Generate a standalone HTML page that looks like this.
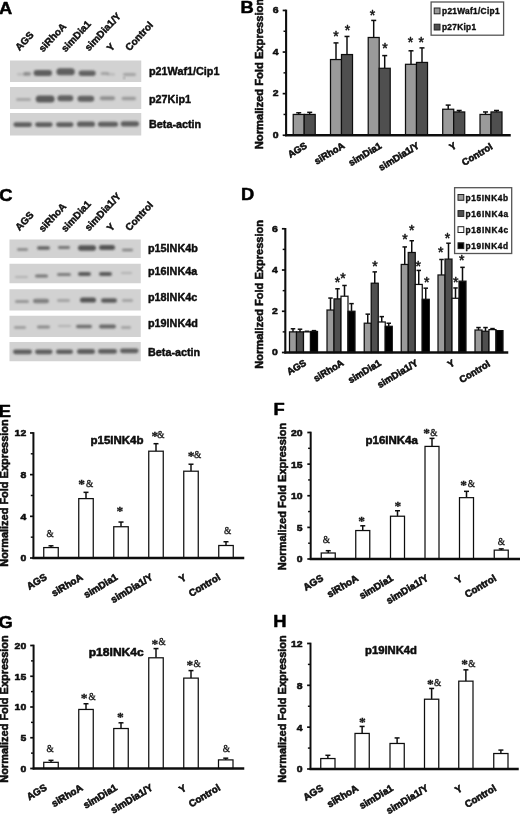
<!DOCTYPE html>
<html><head><meta charset="utf-8"><title>Figure</title>
<style>
html,body{margin:0;padding:0;background:#fff;}
body{width:520px;height:815px;overflow:hidden;}
svg{display:block;font-family:"Liberation Sans",Arial,sans-serif;}
</style></head><body>
<svg width="520" height="815" viewBox="0 0 520 815">
<defs><filter id="bl" x="-20%" y="-60%" width="140%" height="220%"><feGaussianBlur stdDeviation="0.9"/></filter>
<filter id="soft" x="-5%" y="-5%" width="110%" height="110%"><feGaussianBlur stdDeviation="0.35"/></filter></defs>
<rect width="520" height="815" fill="#fff"/>
<g filter="url(#soft)">
<text font-size="17" font-weight="bold" text-anchor="start" fill="#000" stroke="#000" stroke-width="0.5" stroke-linejoin="round" transform="translate(-1.00 14.00) scale(1.08 1)">A</text>
<text font-size="10" font-weight="bold" text-anchor="start" fill="#111" stroke="#111" stroke-width="0.45" stroke-linejoin="round" x="19.50" y="51.30" transform="rotate(-47 19.50 51.30)">AGS</text>
<text font-size="10" font-weight="bold" text-anchor="start" fill="#111" stroke="#111" stroke-width="0.45" stroke-linejoin="round" x="43.00" y="52.50" transform="rotate(-47 43.00 52.50)">siRhoA</text>
<text font-size="10" font-weight="bold" text-anchor="start" fill="#111" stroke="#111" stroke-width="0.45" stroke-linejoin="round" x="65.50" y="52.50" transform="rotate(-47 65.50 52.50)">simDia1</text>
<text font-size="10" font-weight="bold" text-anchor="start" fill="#111" stroke="#111" stroke-width="0.45" stroke-linejoin="round" x="89.00" y="51.50" transform="rotate(-47 89.00 51.50)">simDia1/Y</text>
<text font-size="10" font-weight="bold" text-anchor="start" fill="#111" stroke="#111" stroke-width="0.45" stroke-linejoin="round" x="111.00" y="52.00" transform="rotate(-47 111.00 52.00)">Y</text>
<text font-size="10" font-weight="bold" text-anchor="start" fill="#111" stroke="#111" stroke-width="0.45" stroke-linejoin="round" x="129.50" y="51.50" transform="rotate(-47 129.50 51.50)">Control</text>
<rect x="10.00" y="60.50" width="131.25" height="21.50" fill="#d2d2d2"/>
<rect x="17.00" y="73.05" width="9.00" height="2.50" rx="1.25" fill="#505050" opacity="0.18" filter="url(#bl)"/>
<rect x="23.50" y="71.90" width="7.50" height="3.80" rx="1.90" fill="#505050" opacity="0.5" filter="url(#bl)"/>
<rect x="33.60" y="70.10" width="18.40" height="5.80" rx="2.90" fill="#505050" opacity="0.88" filter="url(#bl)"/>
<rect x="56.40" y="68.30" width="18.40" height="7.00" rx="3.50" fill="#505050" opacity="0.88" filter="url(#bl)"/>
<rect x="78.70" y="70.50" width="17.00" height="5.40" rx="2.70" fill="#505050" opacity="0.85" filter="url(#bl)"/>
<rect x="100.60" y="72.10" width="8.40" height="3.00" rx="1.50" fill="#505050" opacity="0.35" filter="url(#bl)"/>
<rect x="107.00" y="73.20" width="8.00" height="2.40" rx="1.20" fill="#505050" opacity="0.2" filter="url(#bl)"/>
<rect x="123.00" y="73.00" width="13.00" height="3.00" rx="1.50" fill="#505050" opacity="0.35" filter="url(#bl)"/>
<rect x="123.30" y="77.20" width="2.00" height="1.60" rx="0.80" fill="#505050" opacity="0.7" filter="url(#bl)"/>
<rect x="10.00" y="87.00" width="131.25" height="22.00" fill="#d2d2d2"/>
<rect x="16.00" y="98.10" width="15.00" height="3.00" rx="1.50" fill="#505050" opacity="0.32" filter="url(#bl)"/>
<rect x="35.70" y="95.50" width="18.90" height="7.00" rx="3.50" fill="#505050" opacity="0.9" filter="url(#bl)"/>
<rect x="57.40" y="95.20" width="15.90" height="6.00" rx="3.00" fill="#505050" opacity="0.85" filter="url(#bl)"/>
<rect x="77.50" y="95.80" width="16.70" height="6.00" rx="3.00" fill="#505050" opacity="0.85" filter="url(#bl)"/>
<rect x="99.80" y="96.20" width="15.20" height="4.00" rx="2.00" fill="#505050" opacity="0.5" filter="url(#bl)"/>
<rect x="121.60" y="96.75" width="14.40" height="3.50" rx="1.75" fill="#505050" opacity="0.42" filter="url(#bl)"/>
<rect x="10.00" y="113.00" width="131.25" height="22.50" fill="#d2d2d2"/>
<rect x="13.40" y="122.20" width="18.60" height="4.80" rx="2.40" fill="#505050" opacity="0.88" filter="url(#bl)"/>
<rect x="35.10" y="122.20" width="17.50" height="4.80" rx="2.40" fill="#505050" opacity="0.88" filter="url(#bl)"/>
<rect x="56.00" y="122.20" width="17.50" height="4.80" rx="2.40" fill="#505050" opacity="0.88" filter="url(#bl)"/>
<rect x="77.00" y="121.60" width="18.00" height="5.20" rx="2.60" fill="#505050" opacity="0.88" filter="url(#bl)"/>
<rect x="97.90" y="121.80" width="20.10" height="5.00" rx="2.50" fill="#505050" opacity="0.88" filter="url(#bl)"/>
<rect x="120.70" y="121.20" width="18.30" height="5.20" rx="2.60" fill="#505050" opacity="0.88" filter="url(#bl)"/>
<text font-size="10.8" font-weight="bold" text-anchor="start" fill="#111" stroke="#111" stroke-width="0.45" stroke-linejoin="round" x="149.00" y="75.00">p21Waf1/Cip1</text>
<text font-size="10.8" font-weight="bold" text-anchor="start" fill="#111" stroke="#111" stroke-width="0.45" stroke-linejoin="round" x="149.00" y="103.00">p27Kip1</text>
<text font-size="10.8" font-weight="bold" text-anchor="start" fill="#111" stroke="#111" stroke-width="0.45" stroke-linejoin="round" x="149.00" y="128.00">Beta-actin</text>
<text font-size="17" font-weight="bold" text-anchor="start" fill="#000" stroke="#000" stroke-width="0.5" stroke-linejoin="round" transform="translate(-0.80 201.00) scale(1.08 1)">C</text>
<text font-size="10" font-weight="bold" text-anchor="start" fill="#111" stroke="#111" stroke-width="0.45" stroke-linejoin="round" x="19.50" y="231.30" transform="rotate(-47 19.50 231.30)">AGS</text>
<text font-size="10" font-weight="bold" text-anchor="start" fill="#111" stroke="#111" stroke-width="0.45" stroke-linejoin="round" x="43.00" y="232.50" transform="rotate(-47 43.00 232.50)">siRhoA</text>
<text font-size="10" font-weight="bold" text-anchor="start" fill="#111" stroke="#111" stroke-width="0.45" stroke-linejoin="round" x="65.50" y="232.50" transform="rotate(-47 65.50 232.50)">simDia1</text>
<text font-size="10" font-weight="bold" text-anchor="start" fill="#111" stroke="#111" stroke-width="0.45" stroke-linejoin="round" x="89.00" y="231.50" transform="rotate(-47 89.00 231.50)">simDia1/Y</text>
<text font-size="10" font-weight="bold" text-anchor="start" fill="#111" stroke="#111" stroke-width="0.45" stroke-linejoin="round" x="111.00" y="232.00" transform="rotate(-47 111.00 232.00)">Y</text>
<text font-size="10" font-weight="bold" text-anchor="start" fill="#111" stroke="#111" stroke-width="0.45" stroke-linejoin="round" x="129.50" y="231.50" transform="rotate(-47 129.50 231.50)">Control</text>
<rect x="9.50" y="239.50" width="131.25" height="18.50" fill="#d2d2d2"/>
<rect x="17.00" y="248.25" width="11.00" height="2.50" rx="1.25" fill="#505050" opacity="0.6" filter="url(#bl)"/>
<rect x="37.00" y="246.25" width="13.00" height="3.50" rx="1.75" fill="#505050" opacity="0.85" filter="url(#bl)"/>
<rect x="58.00" y="246.10" width="12.00" height="2.80" rx="1.40" fill="#505050" opacity="0.7" filter="url(#bl)"/>
<rect x="78.00" y="245.25" width="18.00" height="5.50" rx="2.75" fill="#505050" opacity="0.95" filter="url(#bl)"/>
<rect x="99.00" y="245.00" width="16.00" height="5.00" rx="2.50" fill="#505050" opacity="0.95" filter="url(#bl)"/>
<rect x="122.00" y="248.75" width="11.00" height="2.50" rx="1.25" fill="#505050" opacity="0.6" filter="url(#bl)"/>
<rect x="9.50" y="263.75" width="131.25" height="19.50" fill="#d2d2d2"/>
<rect x="15.00" y="275.90" width="13.00" height="2.20" rx="1.10" fill="#505050" opacity="0.25" filter="url(#bl)"/>
<rect x="35.00" y="274.40" width="13.00" height="3.20" rx="1.60" fill="#505050" opacity="0.7" filter="url(#bl)"/>
<rect x="57.00" y="272.90" width="14.00" height="3.20" rx="1.60" fill="#505050" opacity="0.65" filter="url(#bl)"/>
<rect x="78.00" y="271.90" width="13.00" height="4.20" rx="2.10" fill="#505050" opacity="0.9" filter="url(#bl)"/>
<rect x="99.00" y="271.90" width="13.00" height="4.20" rx="2.10" fill="#505050" opacity="0.9" filter="url(#bl)"/>
<rect x="121.00" y="272.00" width="11.00" height="2.00" rx="1.00" fill="#505050" opacity="0.25" filter="url(#bl)"/>
<rect x="9.50" y="289.25" width="131.25" height="21.25" fill="#d2d2d2"/>
<rect x="15.00" y="300.00" width="14.00" height="3.00" rx="1.50" fill="#505050" opacity="0.45" filter="url(#bl)"/>
<rect x="33.00" y="298.70" width="16.00" height="4.60" rx="2.30" fill="#505050" opacity="0.62" filter="url(#bl)"/>
<rect x="57.00" y="299.00" width="13.00" height="3.00" rx="1.50" fill="#505050" opacity="0.35" filter="url(#bl)"/>
<rect x="80.00" y="297.40" width="16.00" height="5.20" rx="2.60" fill="#505050" opacity="0.95" filter="url(#bl)"/>
<rect x="101.00" y="298.20" width="16.00" height="4.60" rx="2.30" fill="#505050" opacity="0.9" filter="url(#bl)"/>
<rect x="122.00" y="299.20" width="11.00" height="2.60" rx="1.30" fill="#505050" opacity="0.4" filter="url(#bl)"/>
<rect x="9.50" y="315.75" width="131.25" height="21.25" fill="#d2d2d2"/>
<rect x="14.00" y="326.30" width="12.00" height="2.40" rx="1.20" fill="#505050" opacity="0.45" filter="url(#bl)"/>
<rect x="37.00" y="325.50" width="13.00" height="3.00" rx="1.50" fill="#505050" opacity="0.55" filter="url(#bl)"/>
<rect x="58.00" y="325.00" width="13.00" height="2.00" rx="1.00" fill="#505050" opacity="0.25" filter="url(#bl)"/>
<rect x="76.00" y="324.70" width="16.00" height="3.60" rx="1.80" fill="#505050" opacity="0.75" filter="url(#bl)"/>
<rect x="99.00" y="324.50" width="17.00" height="4.00" rx="2.00" fill="#505050" opacity="0.8" filter="url(#bl)"/>
<rect x="121.00" y="326.25" width="10.00" height="2.50" rx="1.25" fill="#505050" opacity="0.4" filter="url(#bl)"/>
<rect x="9.50" y="342.00" width="131.25" height="19.25" fill="#d2d2d2"/>
<rect x="13.00" y="349.40" width="19.00" height="4.80" rx="2.40" fill="#505050" opacity="0.88" filter="url(#bl)"/>
<rect x="35.00" y="349.40" width="17.50" height="4.80" rx="2.40" fill="#505050" opacity="0.88" filter="url(#bl)"/>
<rect x="56.00" y="349.50" width="17.00" height="4.60" rx="2.30" fill="#505050" opacity="0.88" filter="url(#bl)"/>
<rect x="77.00" y="348.90" width="18.00" height="5.00" rx="2.50" fill="#505050" opacity="0.88" filter="url(#bl)"/>
<rect x="98.00" y="349.00" width="19.00" height="4.80" rx="2.40" fill="#505050" opacity="0.88" filter="url(#bl)"/>
<rect x="120.00" y="348.40" width="18.50" height="4.80" rx="2.40" fill="#505050" opacity="0.88" filter="url(#bl)"/>
<text font-size="10.8" font-weight="bold" text-anchor="start" fill="#111" stroke="#111" stroke-width="0.45" stroke-linejoin="round" x="148.00" y="252.00">p15INK4b</text>
<text font-size="10.8" font-weight="bold" text-anchor="start" fill="#111" stroke="#111" stroke-width="0.45" stroke-linejoin="round" x="148.00" y="275.00">p16INK4a</text>
<text font-size="10.8" font-weight="bold" text-anchor="start" fill="#111" stroke="#111" stroke-width="0.45" stroke-linejoin="round" x="148.00" y="300.50">p18INK4c</text>
<text font-size="10.8" font-weight="bold" text-anchor="start" fill="#111" stroke="#111" stroke-width="0.45" stroke-linejoin="round" x="148.00" y="327.00">p19INK4d</text>
<text font-size="10.8" font-weight="bold" text-anchor="start" fill="#111" stroke="#111" stroke-width="0.45" stroke-linejoin="round" x="148.00" y="356.25">Beta-actin</text>
<text font-size="17" font-weight="bold" text-anchor="start" fill="#000" stroke="#000" stroke-width="0.5" stroke-linejoin="round" transform="translate(240.50 13.00) scale(1.08 1)">B</text>
<line x1="298.70" y1="114.45" x2="298.70" y2="112.79" stroke="#111" stroke-width="1.5"/>
<line x1="296.20" y1="112.79" x2="301.20" y2="112.79" stroke="#111" stroke-width="1.5"/>
<rect x="293.20" y="114.45" width="11.00" height="20.80" fill="#9a9a9a" stroke="#111" stroke-width="1.25"/>
<line x1="309.70" y1="114.45" x2="309.70" y2="112.37" stroke="#111" stroke-width="1.5"/>
<line x1="307.20" y1="112.37" x2="312.20" y2="112.37" stroke="#111" stroke-width="1.5"/>
<rect x="304.20" y="114.45" width="11.00" height="20.80" fill="#505050" stroke="#111" stroke-width="1.25"/>
<line x1="336.00" y1="59.54" x2="336.00" y2="42.90" stroke="#111" stroke-width="1.5"/>
<line x1="333.50" y1="42.90" x2="338.50" y2="42.90" stroke="#111" stroke-width="1.5"/>
<rect x="330.50" y="59.54" width="11.00" height="75.71" fill="#9a9a9a" stroke="#111" stroke-width="1.25"/>
<line x1="347.00" y1="54.55" x2="347.00" y2="36.45" stroke="#111" stroke-width="1.5"/>
<line x1="344.50" y1="36.45" x2="349.50" y2="36.45" stroke="#111" stroke-width="1.5"/>
<rect x="341.50" y="54.55" width="11.00" height="80.70" fill="#505050" stroke="#111" stroke-width="1.25"/>
<line x1="373.70" y1="37.49" x2="373.70" y2="20.43" stroke="#111" stroke-width="1.5"/>
<line x1="371.20" y1="20.43" x2="376.20" y2="20.43" stroke="#111" stroke-width="1.5"/>
<rect x="368.20" y="37.49" width="11.00" height="97.76" fill="#9a9a9a" stroke="#111" stroke-width="1.25"/>
<line x1="384.70" y1="68.27" x2="384.70" y2="55.59" stroke="#111" stroke-width="1.5"/>
<line x1="382.20" y1="55.59" x2="387.20" y2="55.59" stroke="#111" stroke-width="1.5"/>
<rect x="379.20" y="68.27" width="11.00" height="66.98" fill="#505050" stroke="#111" stroke-width="1.25"/>
<line x1="411.00" y1="64.32" x2="411.00" y2="50.80" stroke="#111" stroke-width="1.5"/>
<line x1="408.50" y1="50.80" x2="413.50" y2="50.80" stroke="#111" stroke-width="1.5"/>
<rect x="405.50" y="64.32" width="11.00" height="70.93" fill="#9a9a9a" stroke="#111" stroke-width="1.25"/>
<line x1="422.00" y1="62.45" x2="422.00" y2="47.89" stroke="#111" stroke-width="1.5"/>
<line x1="419.50" y1="47.89" x2="424.50" y2="47.89" stroke="#111" stroke-width="1.5"/>
<rect x="416.50" y="62.45" width="11.00" height="72.80" fill="#505050" stroke="#111" stroke-width="1.25"/>
<line x1="448.20" y1="109.25" x2="448.20" y2="105.09" stroke="#111" stroke-width="1.5"/>
<line x1="445.70" y1="105.09" x2="450.70" y2="105.09" stroke="#111" stroke-width="1.5"/>
<rect x="442.70" y="109.25" width="11.00" height="26.00" fill="#9a9a9a" stroke="#111" stroke-width="1.25"/>
<line x1="459.20" y1="111.95" x2="459.20" y2="110.50" stroke="#111" stroke-width="1.5"/>
<line x1="456.70" y1="110.50" x2="461.70" y2="110.50" stroke="#111" stroke-width="1.5"/>
<rect x="453.70" y="111.95" width="11.00" height="23.30" fill="#505050" stroke="#111" stroke-width="1.25"/>
<line x1="485.50" y1="114.45" x2="485.50" y2="111.95" stroke="#111" stroke-width="1.5"/>
<line x1="483.00" y1="111.95" x2="488.00" y2="111.95" stroke="#111" stroke-width="1.5"/>
<rect x="480.00" y="114.45" width="11.00" height="20.80" fill="#9a9a9a" stroke="#111" stroke-width="1.25"/>
<line x1="496.50" y1="111.95" x2="496.50" y2="110.50" stroke="#111" stroke-width="1.5"/>
<line x1="494.00" y1="110.50" x2="499.00" y2="110.50" stroke="#111" stroke-width="1.5"/>
<rect x="491.00" y="111.95" width="11.00" height="23.30" fill="#505050" stroke="#111" stroke-width="1.25"/>
<line x1="286.10" y1="9.65" x2="286.10" y2="136.15" stroke="#111" stroke-width="2.1"/>
<line x1="285.05" y1="135.25" x2="510.75" y2="135.25" stroke="#111" stroke-width="2.5"/>
<line x1="282.70" y1="135.25" x2="286.10" y2="135.25" stroke="#111" stroke-width="1.7"/>
<text font-size="9.5" font-weight="bold" text-anchor="end" fill="#111" stroke="#111" stroke-width="0.55" stroke-linejoin="round" transform="translate(278.50 138.05) scale(1.1 1)">0</text>
<line x1="282.70" y1="93.65" x2="286.10" y2="93.65" stroke="#111" stroke-width="1.7"/>
<text font-size="9.5" font-weight="bold" text-anchor="end" fill="#111" stroke="#111" stroke-width="0.55" stroke-linejoin="round" transform="translate(278.50 96.45) scale(1.1 1)">2</text>
<line x1="282.70" y1="52.05" x2="286.10" y2="52.05" stroke="#111" stroke-width="1.7"/>
<text font-size="9.5" font-weight="bold" text-anchor="end" fill="#111" stroke="#111" stroke-width="0.55" stroke-linejoin="round" transform="translate(278.50 54.85) scale(1.1 1)">4</text>
<line x1="282.70" y1="10.45" x2="286.10" y2="10.45" stroke="#111" stroke-width="1.7"/>
<text font-size="9.5" font-weight="bold" text-anchor="end" fill="#111" stroke="#111" stroke-width="0.55" stroke-linejoin="round" transform="translate(278.50 13.25) scale(1.1 1)">6</text>
<line x1="283.50" y1="114.45" x2="286.10" y2="114.45" stroke="#111" stroke-width="1.45"/>
<line x1="283.50" y1="72.85" x2="286.10" y2="72.85" stroke="#111" stroke-width="1.45"/>
<line x1="283.50" y1="31.25" x2="286.10" y2="31.25" stroke="#111" stroke-width="1.45"/>
<text font-size="10.1" font-weight="bold" text-anchor="middle" fill="#111" stroke="#111" stroke-width="0.55" stroke-linejoin="round" x="263.20" y="74.00" transform="rotate(-90 263.20 74.00)" textLength="150.5" lengthAdjust="spacingAndGlyphs">Normalized Fold Expression</text>
<text font-size="9.5" font-weight="bold" text-anchor="end" fill="#111" stroke="#111" stroke-width="0.6" stroke-linejoin="round" x="307.80" y="147.50" transform="rotate(-31 307.80 147.50)">AGS</text>
<text font-size="9.5" font-weight="bold" text-anchor="end" fill="#111" stroke="#111" stroke-width="0.6" stroke-linejoin="round" x="345.30" y="147.50" transform="rotate(-31 345.30 147.50)">siRhoA</text>
<text font-size="9.5" font-weight="bold" text-anchor="end" fill="#111" stroke="#111" stroke-width="0.6" stroke-linejoin="round" x="382.30" y="147.50" transform="rotate(-31 382.30 147.50)">simDia1</text>
<text font-size="9.5" font-weight="bold" text-anchor="end" fill="#111" stroke="#111" stroke-width="0.6" stroke-linejoin="round" x="420.05" y="147.50" transform="rotate(-31 420.05 147.50)">simDia1/Y</text>
<text font-size="9.5" font-weight="bold" text-anchor="end" fill="#111" stroke="#111" stroke-width="0.6" stroke-linejoin="round" x="457.30" y="147.50" transform="rotate(-31 457.30 147.50)">Y</text>
<text font-size="9.5" font-weight="bold" text-anchor="end" fill="#111" stroke="#111" stroke-width="0.6" stroke-linejoin="round" x="493.30" y="148.50" transform="rotate(-31 493.30 148.50)">Control</text>
<text font-size="14" font-weight="normal" text-anchor="middle" fill="#111" stroke="#111" stroke-width="0.5" stroke-linejoin="round" x="336.00" y="41.14">*</text>
<text font-size="14" font-weight="normal" text-anchor="middle" fill="#111" stroke="#111" stroke-width="0.5" stroke-linejoin="round" x="347.50" y="34.64">*</text>
<text font-size="14" font-weight="normal" text-anchor="middle" fill="#111" stroke="#111" stroke-width="0.5" stroke-linejoin="round" x="372.50" y="20.14">*</text>
<text font-size="14" font-weight="normal" text-anchor="middle" fill="#111" stroke="#111" stroke-width="0.5" stroke-linejoin="round" x="385.00" y="52.89">*</text>
<text font-size="14" font-weight="normal" text-anchor="middle" fill="#111" stroke="#111" stroke-width="0.5" stroke-linejoin="round" x="410.50" y="47.14">*</text>
<text font-size="14" font-weight="normal" text-anchor="middle" fill="#111" stroke="#111" stroke-width="0.5" stroke-linejoin="round" x="421.25" y="47.14">*</text>
<rect x="431.10" y="2.00" width="72.50" height="33.20" fill="#fff" stroke="#555" stroke-width="1.3"/>
<rect x="434.20" y="8.00" width="5.80" height="5.80" fill="#9a9a9a" stroke="#222" stroke-width="1"/>
<rect x="434.20" y="24.20" width="5.80" height="5.80" fill="#505050" stroke="#222" stroke-width="1"/>
<text font-size="8.3" font-weight="bold" text-anchor="start" fill="#111" stroke="#111" stroke-width="0.4" stroke-linejoin="round" x="442.00" y="14.00" textLength="57.5" lengthAdjust="spacing">p21Waf1/Cip1</text>
<text font-size="8.3" font-weight="bold" text-anchor="start" fill="#111" stroke="#111" stroke-width="0.4" stroke-linejoin="round" x="442.00" y="30.00" textLength="34" lengthAdjust="spacing">p27Kip1</text>
<text font-size="17" font-weight="bold" text-anchor="start" fill="#000" stroke="#000" stroke-width="0.5" stroke-linejoin="round" transform="translate(241.00 199.50) scale(1.08 1)">D</text>
<line x1="293.00" y1="331.88" x2="293.00" y2="328.79" stroke="#111" stroke-width="1.5"/>
<line x1="290.75" y1="328.79" x2="295.25" y2="328.79" stroke="#111" stroke-width="1.5"/>
<rect x="289.50" y="331.88" width="7.00" height="20.62" fill="#9a9a9a" stroke="#111" stroke-width="1.25"/>
<line x1="300.00" y1="331.88" x2="300.00" y2="329.20" stroke="#111" stroke-width="1.5"/>
<line x1="297.75" y1="329.20" x2="302.25" y2="329.20" stroke="#111" stroke-width="1.5"/>
<rect x="296.50" y="331.88" width="7.00" height="20.62" fill="#505050" stroke="#111" stroke-width="1.25"/>
<line x1="307.00" y1="331.88" x2="307.00" y2="331.26" stroke="#111" stroke-width="1.5"/>
<line x1="304.75" y1="331.26" x2="309.25" y2="331.26" stroke="#111" stroke-width="1.5"/>
<rect x="303.50" y="331.88" width="7.00" height="20.62" fill="#fff" stroke="#111" stroke-width="1.25"/>
<line x1="314.00" y1="331.47" x2="314.00" y2="330.64" stroke="#111" stroke-width="1.5"/>
<line x1="311.75" y1="330.64" x2="316.25" y2="330.64" stroke="#111" stroke-width="1.5"/>
<rect x="310.50" y="331.47" width="7.00" height="21.03" fill="#000" stroke="#111" stroke-width="1.25"/>
<line x1="330.50" y1="310.02" x2="330.50" y2="298.06" stroke="#111" stroke-width="1.5"/>
<line x1="328.25" y1="298.06" x2="332.75" y2="298.06" stroke="#111" stroke-width="1.5"/>
<rect x="327.00" y="310.02" width="7.00" height="42.48" fill="#9a9a9a" stroke="#111" stroke-width="1.25"/>
<line x1="337.50" y1="298.89" x2="337.50" y2="288.78" stroke="#111" stroke-width="1.5"/>
<line x1="335.25" y1="288.78" x2="339.75" y2="288.78" stroke="#111" stroke-width="1.5"/>
<rect x="334.00" y="298.89" width="7.00" height="53.61" fill="#505050" stroke="#111" stroke-width="1.25"/>
<line x1="344.50" y1="296.21" x2="344.50" y2="285.49" stroke="#111" stroke-width="1.5"/>
<line x1="342.25" y1="285.49" x2="346.75" y2="285.49" stroke="#111" stroke-width="1.5"/>
<rect x="341.00" y="296.21" width="7.00" height="56.29" fill="#fff" stroke="#111" stroke-width="1.25"/>
<line x1="351.50" y1="311.26" x2="351.50" y2="303.63" stroke="#111" stroke-width="1.5"/>
<line x1="349.25" y1="303.63" x2="353.75" y2="303.63" stroke="#111" stroke-width="1.5"/>
<rect x="348.00" y="311.26" width="7.00" height="41.24" fill="#000" stroke="#111" stroke-width="1.25"/>
<line x1="367.75" y1="323.22" x2="367.75" y2="314.15" stroke="#111" stroke-width="1.5"/>
<line x1="365.50" y1="314.15" x2="370.00" y2="314.15" stroke="#111" stroke-width="1.5"/>
<rect x="364.25" y="323.22" width="7.00" height="29.28" fill="#9a9a9a" stroke="#111" stroke-width="1.25"/>
<line x1="374.75" y1="283.22" x2="374.75" y2="271.88" stroke="#111" stroke-width="1.5"/>
<line x1="372.50" y1="271.88" x2="377.00" y2="271.88" stroke="#111" stroke-width="1.5"/>
<rect x="371.25" y="283.22" width="7.00" height="69.28" fill="#505050" stroke="#111" stroke-width="1.25"/>
<line x1="381.75" y1="321.98" x2="381.75" y2="316.62" stroke="#111" stroke-width="1.5"/>
<line x1="379.50" y1="316.62" x2="384.00" y2="316.62" stroke="#111" stroke-width="1.5"/>
<rect x="378.25" y="321.98" width="7.00" height="30.52" fill="#fff" stroke="#111" stroke-width="1.25"/>
<line x1="388.75" y1="326.31" x2="388.75" y2="323.22" stroke="#111" stroke-width="1.5"/>
<line x1="386.50" y1="323.22" x2="391.00" y2="323.22" stroke="#111" stroke-width="1.5"/>
<rect x="385.25" y="326.31" width="7.00" height="26.19" fill="#000" stroke="#111" stroke-width="1.25"/>
<line x1="404.75" y1="264.45" x2="404.75" y2="246.93" stroke="#111" stroke-width="1.5"/>
<line x1="402.50" y1="246.93" x2="407.00" y2="246.93" stroke="#111" stroke-width="1.5"/>
<rect x="401.25" y="264.45" width="7.00" height="88.05" fill="#9a9a9a" stroke="#111" stroke-width="1.25"/>
<line x1="411.75" y1="252.49" x2="411.75" y2="240.74" stroke="#111" stroke-width="1.5"/>
<line x1="409.50" y1="240.74" x2="414.00" y2="240.74" stroke="#111" stroke-width="1.5"/>
<rect x="408.25" y="252.49" width="7.00" height="100.01" fill="#505050" stroke="#111" stroke-width="1.25"/>
<line x1="418.75" y1="284.45" x2="418.75" y2="270.43" stroke="#111" stroke-width="1.5"/>
<line x1="416.50" y1="270.43" x2="421.00" y2="270.43" stroke="#111" stroke-width="1.5"/>
<rect x="415.25" y="284.45" width="7.00" height="68.05" fill="#fff" stroke="#111" stroke-width="1.25"/>
<line x1="425.75" y1="299.30" x2="425.75" y2="288.17" stroke="#111" stroke-width="1.5"/>
<line x1="423.50" y1="288.17" x2="428.00" y2="288.17" stroke="#111" stroke-width="1.5"/>
<rect x="422.25" y="299.30" width="7.00" height="53.20" fill="#000" stroke="#111" stroke-width="1.25"/>
<line x1="441.50" y1="274.97" x2="441.50" y2="259.50" stroke="#111" stroke-width="1.5"/>
<line x1="439.25" y1="259.50" x2="443.75" y2="259.50" stroke="#111" stroke-width="1.5"/>
<rect x="438.00" y="274.97" width="7.00" height="77.53" fill="#9a9a9a" stroke="#111" stroke-width="1.25"/>
<line x1="448.50" y1="259.09" x2="448.50" y2="243.21" stroke="#111" stroke-width="1.5"/>
<line x1="446.25" y1="243.21" x2="450.75" y2="243.21" stroke="#111" stroke-width="1.5"/>
<rect x="445.00" y="259.09" width="7.00" height="93.41" fill="#505050" stroke="#111" stroke-width="1.25"/>
<line x1="455.50" y1="298.27" x2="455.50" y2="287.96" stroke="#111" stroke-width="1.5"/>
<line x1="453.25" y1="287.96" x2="457.75" y2="287.96" stroke="#111" stroke-width="1.5"/>
<rect x="452.00" y="298.27" width="7.00" height="54.23" fill="#fff" stroke="#111" stroke-width="1.25"/>
<line x1="462.50" y1="281.15" x2="462.50" y2="267.34" stroke="#111" stroke-width="1.5"/>
<line x1="460.25" y1="267.34" x2="464.75" y2="267.34" stroke="#111" stroke-width="1.5"/>
<rect x="459.00" y="281.15" width="7.00" height="71.35" fill="#000" stroke="#111" stroke-width="1.25"/>
<line x1="478.50" y1="330.02" x2="478.50" y2="327.55" stroke="#111" stroke-width="1.5"/>
<line x1="476.25" y1="327.55" x2="480.75" y2="327.55" stroke="#111" stroke-width="1.5"/>
<rect x="475.00" y="330.02" width="7.00" height="22.48" fill="#9a9a9a" stroke="#111" stroke-width="1.25"/>
<line x1="485.50" y1="331.26" x2="485.50" y2="327.55" stroke="#111" stroke-width="1.5"/>
<line x1="483.25" y1="327.55" x2="487.75" y2="327.55" stroke="#111" stroke-width="1.5"/>
<rect x="482.00" y="331.26" width="7.00" height="21.24" fill="#505050" stroke="#111" stroke-width="1.25"/>
<line x1="492.50" y1="329.61" x2="492.50" y2="328.58" stroke="#111" stroke-width="1.5"/>
<line x1="490.25" y1="328.58" x2="494.75" y2="328.58" stroke="#111" stroke-width="1.5"/>
<rect x="489.00" y="329.61" width="7.00" height="22.89" fill="#fff" stroke="#111" stroke-width="1.25"/>
<rect x="496.00" y="330.64" width="7.00" height="21.86" fill="#000" stroke="#111" stroke-width="1.25"/>
<line x1="285.30" y1="227.98" x2="285.30" y2="353.40" stroke="#111" stroke-width="2.1"/>
<line x1="284.25" y1="352.50" x2="508.25" y2="352.50" stroke="#111" stroke-width="2.5"/>
<line x1="281.90" y1="352.50" x2="285.30" y2="352.50" stroke="#111" stroke-width="1.7"/>
<text font-size="9.5" font-weight="bold" text-anchor="end" fill="#111" stroke="#111" stroke-width="0.55" stroke-linejoin="round" transform="translate(277.80 355.30) scale(1.1 1)">0</text>
<line x1="281.90" y1="311.26" x2="285.30" y2="311.26" stroke="#111" stroke-width="1.7"/>
<text font-size="9.5" font-weight="bold" text-anchor="end" fill="#111" stroke="#111" stroke-width="0.55" stroke-linejoin="round" transform="translate(277.80 314.06) scale(1.1 1)">2</text>
<line x1="281.90" y1="270.02" x2="285.30" y2="270.02" stroke="#111" stroke-width="1.7"/>
<text font-size="9.5" font-weight="bold" text-anchor="end" fill="#111" stroke="#111" stroke-width="0.55" stroke-linejoin="round" transform="translate(277.80 272.82) scale(1.1 1)">4</text>
<line x1="281.90" y1="228.78" x2="285.30" y2="228.78" stroke="#111" stroke-width="1.7"/>
<text font-size="9.5" font-weight="bold" text-anchor="end" fill="#111" stroke="#111" stroke-width="0.55" stroke-linejoin="round" transform="translate(277.80 231.58) scale(1.1 1)">6</text>
<line x1="282.70" y1="331.88" x2="285.30" y2="331.88" stroke="#111" stroke-width="1.45"/>
<line x1="282.70" y1="290.64" x2="285.30" y2="290.64" stroke="#111" stroke-width="1.45"/>
<line x1="282.70" y1="249.40" x2="285.30" y2="249.40" stroke="#111" stroke-width="1.45"/>
<text font-size="10.1" font-weight="bold" text-anchor="middle" fill="#111" stroke="#111" stroke-width="0.55" stroke-linejoin="round" x="263.00" y="294.30" transform="rotate(-90 263.00 294.30)" textLength="148.8" lengthAdjust="spacingAndGlyphs">Normalized Fold Expression</text>
<text font-size="9.5" font-weight="bold" text-anchor="end" fill="#111" stroke="#111" stroke-width="0.6" stroke-linejoin="round" x="307.00" y="364.75" transform="rotate(-31 307.00 364.75)">AGS</text>
<text font-size="9.5" font-weight="bold" text-anchor="end" fill="#111" stroke="#111" stroke-width="0.6" stroke-linejoin="round" x="344.50" y="364.75" transform="rotate(-31 344.50 364.75)">siRhoA</text>
<text font-size="9.5" font-weight="bold" text-anchor="end" fill="#111" stroke="#111" stroke-width="0.6" stroke-linejoin="round" x="381.75" y="364.75" transform="rotate(-31 381.75 364.75)">simDia1</text>
<text font-size="9.5" font-weight="bold" text-anchor="end" fill="#111" stroke="#111" stroke-width="0.6" stroke-linejoin="round" x="418.75" y="364.75" transform="rotate(-31 418.75 364.75)">simDia1/Y</text>
<text font-size="9.5" font-weight="bold" text-anchor="end" fill="#111" stroke="#111" stroke-width="0.6" stroke-linejoin="round" x="455.50" y="364.75" transform="rotate(-31 455.50 364.75)">Y</text>
<text font-size="9.5" font-weight="bold" text-anchor="end" fill="#111" stroke="#111" stroke-width="0.6" stroke-linejoin="round" x="490.80" y="365.75" transform="rotate(-31 490.80 365.75)">Control</text>
<text font-size="14" font-weight="normal" text-anchor="middle" fill="#111" stroke="#111" stroke-width="0.5" stroke-linejoin="round" x="337.50" y="286.64">*</text>
<text font-size="14" font-weight="normal" text-anchor="middle" fill="#111" stroke="#111" stroke-width="0.5" stroke-linejoin="round" x="343.00" y="283.14">*</text>
<text font-size="14" font-weight="normal" text-anchor="middle" fill="#111" stroke="#111" stroke-width="0.5" stroke-linejoin="round" x="375.00" y="270.89">*</text>
<text font-size="14" font-weight="normal" text-anchor="middle" fill="#111" stroke="#111" stroke-width="0.5" stroke-linejoin="round" x="405.00" y="244.14">*</text>
<text font-size="14" font-weight="normal" text-anchor="middle" fill="#111" stroke="#111" stroke-width="0.5" stroke-linejoin="round" x="411.75" y="234.64">*</text>
<text font-size="14" font-weight="normal" text-anchor="middle" fill="#111" stroke="#111" stroke-width="0.5" stroke-linejoin="round" x="418.25" y="270.89">*</text>
<text font-size="14" font-weight="normal" text-anchor="middle" fill="#111" stroke="#111" stroke-width="0.5" stroke-linejoin="round" x="426.75" y="286.64">*</text>
<text font-size="14" font-weight="normal" text-anchor="middle" fill="#111" stroke="#111" stroke-width="0.5" stroke-linejoin="round" x="440.75" y="256.64">*</text>
<text font-size="14" font-weight="normal" text-anchor="middle" fill="#111" stroke="#111" stroke-width="0.5" stroke-linejoin="round" x="447.50" y="243.39">*</text>
<text font-size="14" font-weight="normal" text-anchor="middle" fill="#111" stroke="#111" stroke-width="0.5" stroke-linejoin="round" x="455.75" y="287.14">*</text>
<text font-size="14" font-weight="normal" text-anchor="middle" fill="#111" stroke="#111" stroke-width="0.5" stroke-linejoin="round" x="461.75" y="265.14">*</text>
<rect x="454.60" y="187.70" width="57.10" height="65.80" fill="#fff" stroke="#555" stroke-width="1.3"/>
<rect x="458.00" y="194.50" width="5.80" height="5.80" fill="#9a9a9a" stroke="#222" stroke-width="1"/>
<text font-size="8.3" font-weight="bold" text-anchor="start" fill="#111" stroke="#111" stroke-width="0.4" stroke-linejoin="round" x="465.60" y="200.60" textLength="42.5" lengthAdjust="spacing">p15INK4b</text>
<rect x="458.00" y="210.60" width="5.80" height="5.80" fill="#505050" stroke="#222" stroke-width="1"/>
<text font-size="8.3" font-weight="bold" text-anchor="start" fill="#111" stroke="#111" stroke-width="0.4" stroke-linejoin="round" x="465.60" y="216.70" textLength="42.5" lengthAdjust="spacing">p16INK4a</text>
<rect x="458.00" y="226.70" width="5.80" height="5.80" fill="#fff" stroke="#222" stroke-width="1"/>
<text font-size="8.3" font-weight="bold" text-anchor="start" fill="#111" stroke="#111" stroke-width="0.4" stroke-linejoin="round" x="465.60" y="232.80" textLength="42.5" lengthAdjust="spacing">p18INK4c</text>
<rect x="458.00" y="242.80" width="5.80" height="5.80" fill="#000" stroke="#222" stroke-width="1"/>
<text font-size="8.3" font-weight="bold" text-anchor="start" fill="#111" stroke="#111" stroke-width="0.4" stroke-linejoin="round" x="465.60" y="248.90" textLength="42.5" lengthAdjust="spacing">p19INK4d</text>
<text font-size="17" font-weight="bold" text-anchor="start" fill="#000" stroke="#000" stroke-width="0.5" stroke-linejoin="round" transform="translate(-1.30 416.50) scale(1.08 1)">E</text>
<line x1="51.00" y1="547.58" x2="51.00" y2="545.81" stroke="#111" stroke-width="1.5"/>
<line x1="48.50" y1="545.81" x2="53.50" y2="545.81" stroke="#111" stroke-width="1.5"/>
<rect x="43.75" y="547.58" width="14.50" height="10.42" fill="#fff" stroke="#111" stroke-width="1.25"/>
<line x1="86.00" y1="498.61" x2="86.00" y2="492.35" stroke="#111" stroke-width="1.5"/>
<line x1="83.50" y1="492.35" x2="88.50" y2="492.35" stroke="#111" stroke-width="1.5"/>
<rect x="78.75" y="498.61" width="14.50" height="59.39" fill="#fff" stroke="#111" stroke-width="1.25"/>
<line x1="121.00" y1="526.74" x2="121.00" y2="522.05" stroke="#111" stroke-width="1.5"/>
<line x1="118.50" y1="522.05" x2="123.50" y2="522.05" stroke="#111" stroke-width="1.5"/>
<rect x="113.75" y="526.74" width="14.50" height="31.26" fill="#fff" stroke="#111" stroke-width="1.25"/>
<line x1="156.00" y1="451.19" x2="156.00" y2="443.69" stroke="#111" stroke-width="1.5"/>
<line x1="153.50" y1="443.69" x2="158.50" y2="443.69" stroke="#111" stroke-width="1.5"/>
<rect x="148.75" y="451.19" width="14.50" height="106.81" fill="#fff" stroke="#111" stroke-width="1.25"/>
<line x1="191.00" y1="471.20" x2="191.00" y2="464.22" stroke="#111" stroke-width="1.5"/>
<line x1="188.50" y1="464.22" x2="193.50" y2="464.22" stroke="#111" stroke-width="1.5"/>
<rect x="183.75" y="471.20" width="14.50" height="86.80" fill="#fff" stroke="#111" stroke-width="1.25"/>
<line x1="226.00" y1="545.50" x2="226.00" y2="541.74" stroke="#111" stroke-width="1.5"/>
<line x1="223.50" y1="541.74" x2="228.50" y2="541.74" stroke="#111" stroke-width="1.5"/>
<rect x="218.75" y="545.50" width="14.50" height="12.50" fill="#fff" stroke="#111" stroke-width="1.25"/>
<line x1="33.40" y1="432.16" x2="33.40" y2="558.90" stroke="#111" stroke-width="2.0"/>
<line x1="32.40" y1="558.00" x2="244.25" y2="558.00" stroke="#111" stroke-width="2.3"/>
<line x1="30.00" y1="558.00" x2="33.40" y2="558.00" stroke="#111" stroke-width="1.7"/>
<text font-size="9.5" font-weight="bold" text-anchor="end" fill="#111" stroke="#111" stroke-width="0.55" stroke-linejoin="round" transform="translate(26.20 561.40) scale(1.1 1)">0</text>
<line x1="30.00" y1="516.32" x2="33.40" y2="516.32" stroke="#111" stroke-width="1.7"/>
<text font-size="9.5" font-weight="bold" text-anchor="end" fill="#111" stroke="#111" stroke-width="0.55" stroke-linejoin="round" transform="translate(26.20 519.72) scale(1.1 1)">4</text>
<line x1="30.00" y1="474.64" x2="33.40" y2="474.64" stroke="#111" stroke-width="1.7"/>
<text font-size="9.5" font-weight="bold" text-anchor="end" fill="#111" stroke="#111" stroke-width="0.55" stroke-linejoin="round" transform="translate(26.20 478.04) scale(1.1 1)">8</text>
<line x1="30.00" y1="432.96" x2="33.40" y2="432.96" stroke="#111" stroke-width="1.7"/>
<text font-size="9.5" font-weight="bold" text-anchor="end" fill="#111" stroke="#111" stroke-width="0.55" stroke-linejoin="round" transform="translate(26.20 436.36) scale(1.1 1)">12</text>
<line x1="30.80" y1="537.16" x2="33.40" y2="537.16" stroke="#111" stroke-width="1.45"/>
<line x1="30.80" y1="495.48" x2="33.40" y2="495.48" stroke="#111" stroke-width="1.45"/>
<line x1="30.80" y1="453.80" x2="33.40" y2="453.80" stroke="#111" stroke-width="1.45"/>
<text font-size="10.1" font-weight="bold" text-anchor="middle" fill="#111" stroke="#111" stroke-width="0.55" stroke-linejoin="round" x="8.00" y="493.00" transform="rotate(-90 8.00 493.00)" textLength="147.5" lengthAdjust="spacingAndGlyphs">Normalized Fold Expression</text>
<text font-size="9.8" font-weight="bold" text-anchor="end" fill="#111" stroke="#111" stroke-width="0.6" stroke-linejoin="round" x="47.50" y="579.00" transform="rotate(-31 47.50 579.00)">AGS</text>
<text font-size="9.8" font-weight="bold" text-anchor="end" fill="#111" stroke="#111" stroke-width="0.6" stroke-linejoin="round" x="83.50" y="579.00" transform="rotate(-31 83.50 579.00)">siRhoA</text>
<text font-size="9.8" font-weight="bold" text-anchor="end" fill="#111" stroke="#111" stroke-width="0.6" stroke-linejoin="round" x="118.50" y="579.00" transform="rotate(-31 118.50 579.00)">simDia1</text>
<text font-size="9.8" font-weight="bold" text-anchor="end" fill="#111" stroke="#111" stroke-width="0.6" stroke-linejoin="round" x="153.50" y="579.00" transform="rotate(-31 153.50 579.00)">simDia1/Y</text>
<text font-size="9.8" font-weight="bold" text-anchor="end" fill="#111" stroke="#111" stroke-width="0.6" stroke-linejoin="round" x="187.00" y="579.50" transform="rotate(-31 187.00 579.50)">Y</text>
<text font-size="9.8" font-weight="bold" text-anchor="end" fill="#111" stroke="#111" stroke-width="0.6" stroke-linejoin="round" x="221.00" y="579.00" transform="rotate(-31 221.00 579.00)">Control</text>
<text font-size="11.2" font-weight="bold" text-anchor="start" fill="#111" stroke="#111" stroke-width="0.55" stroke-linejoin="round" x="90.50" y="443.75" textLength="53" lengthAdjust="spacingAndGlyphs">p15INK4b</text>
<text font-size="9.3" font-weight="normal" text-anchor="middle" fill="#111" stroke="#111" stroke-width="0.3" stroke-linejoin="round" font-family='"Liberation Serif", "Times New Roman", serif' x="50.00" y="536.77">&amp;</text>
<text font-size="13.5" font-weight="bold" text-anchor="middle" fill="#111" stroke="#111" stroke-width="0.3" stroke-linejoin="round" font-family='"Liberation Serif", "Times New Roman", serif' x="81.55" y="488.42">*</text>
<text font-size="9.3" font-weight="normal" text-anchor="middle" fill="#111" stroke="#111" stroke-width="0.3" stroke-linejoin="round" font-family='"Liberation Serif", "Times New Roman", serif' x="89.50" y="486.77">&amp;</text>
<text font-size="13.5" font-weight="bold" text-anchor="middle" fill="#111" stroke="#111" stroke-width="0.3" stroke-linejoin="round" font-family='"Liberation Serif", "Times New Roman", serif' x="119.80" y="515.42">*</text>
<text font-size="13.5" font-weight="bold" text-anchor="middle" fill="#111" stroke="#111" stroke-width="0.3" stroke-linejoin="round" font-family='"Liberation Serif", "Times New Roman", serif' x="154.80" y="440.42">*</text>
<text font-size="9.3" font-weight="normal" text-anchor="middle" fill="#111" stroke="#111" stroke-width="0.3" stroke-linejoin="round" font-family='"Liberation Serif", "Times New Roman", serif' x="160.75" y="438.02">&amp;</text>
<text font-size="13.5" font-weight="bold" text-anchor="middle" fill="#111" stroke="#111" stroke-width="0.3" stroke-linejoin="round" font-family='"Liberation Serif", "Times New Roman", serif' x="191.05" y="459.92">*</text>
<text font-size="9.3" font-weight="normal" text-anchor="middle" fill="#111" stroke="#111" stroke-width="0.3" stroke-linejoin="round" font-family='"Liberation Serif", "Times New Roman", serif' x="197.50" y="457.52">&amp;</text>
<text font-size="9.3" font-weight="normal" text-anchor="middle" fill="#111" stroke="#111" stroke-width="0.3" stroke-linejoin="round" font-family='"Liberation Serif", "Times New Roman", serif' x="227.50" y="534.27">&amp;</text>
<text font-size="17" font-weight="bold" text-anchor="start" fill="#000" stroke="#000" stroke-width="0.5" stroke-linejoin="round" transform="translate(273.50 414.50) scale(1.08 1)">F</text>
<line x1="328.25" y1="552.99" x2="328.25" y2="550.71" stroke="#111" stroke-width="1.5"/>
<line x1="325.75" y1="550.71" x2="330.75" y2="550.71" stroke="#111" stroke-width="1.5"/>
<rect x="321.25" y="552.99" width="14.00" height="6.01" fill="#fff" stroke="#111" stroke-width="1.25"/>
<line x1="362.75" y1="530.54" x2="362.75" y2="525.79" stroke="#111" stroke-width="1.5"/>
<line x1="360.25" y1="525.79" x2="365.25" y2="525.79" stroke="#111" stroke-width="1.5"/>
<rect x="355.75" y="530.54" width="14.00" height="28.46" fill="#fff" stroke="#111" stroke-width="1.25"/>
<line x1="397.50" y1="516.24" x2="397.50" y2="510.74" stroke="#111" stroke-width="1.5"/>
<line x1="395.00" y1="510.74" x2="400.00" y2="510.74" stroke="#111" stroke-width="1.5"/>
<rect x="390.50" y="516.24" width="14.00" height="42.76" fill="#fff" stroke="#111" stroke-width="1.25"/>
<line x1="432.00" y1="446.41" x2="432.00" y2="438.38" stroke="#111" stroke-width="1.5"/>
<line x1="429.50" y1="438.38" x2="434.50" y2="438.38" stroke="#111" stroke-width="1.5"/>
<rect x="425.00" y="446.41" width="14.00" height="112.59" fill="#fff" stroke="#111" stroke-width="1.25"/>
<line x1="466.50" y1="497.65" x2="466.50" y2="491.32" stroke="#111" stroke-width="1.5"/>
<line x1="464.00" y1="491.32" x2="469.00" y2="491.32" stroke="#111" stroke-width="1.5"/>
<rect x="459.50" y="497.65" width="14.00" height="61.35" fill="#fff" stroke="#111" stroke-width="1.25"/>
<line x1="501.25" y1="550.14" x2="501.25" y2="548.88" stroke="#111" stroke-width="1.5"/>
<line x1="498.75" y1="548.88" x2="503.75" y2="548.88" stroke="#111" stroke-width="1.5"/>
<rect x="494.25" y="550.14" width="14.00" height="8.86" fill="#fff" stroke="#111" stroke-width="1.25"/>
<line x1="310.70" y1="431.70" x2="310.70" y2="559.90" stroke="#111" stroke-width="2.0"/>
<line x1="309.70" y1="559.00" x2="520.00" y2="559.00" stroke="#111" stroke-width="2.3"/>
<line x1="307.30" y1="559.00" x2="310.70" y2="559.00" stroke="#111" stroke-width="1.7"/>
<text font-size="9.5" font-weight="bold" text-anchor="end" fill="#111" stroke="#111" stroke-width="0.55" stroke-linejoin="round" transform="translate(302.50 562.40) scale(1.1 1)">0</text>
<line x1="307.30" y1="527.38" x2="310.70" y2="527.38" stroke="#111" stroke-width="1.7"/>
<text font-size="9.5" font-weight="bold" text-anchor="end" fill="#111" stroke="#111" stroke-width="0.55" stroke-linejoin="round" transform="translate(302.50 530.77) scale(1.1 1)">5</text>
<line x1="307.30" y1="495.75" x2="310.70" y2="495.75" stroke="#111" stroke-width="1.7"/>
<text font-size="9.5" font-weight="bold" text-anchor="end" fill="#111" stroke="#111" stroke-width="0.55" stroke-linejoin="round" transform="translate(302.50 499.15) scale(1.1 1)">10</text>
<line x1="307.30" y1="464.12" x2="310.70" y2="464.12" stroke="#111" stroke-width="1.7"/>
<text font-size="9.5" font-weight="bold" text-anchor="end" fill="#111" stroke="#111" stroke-width="0.55" stroke-linejoin="round" transform="translate(302.50 467.52) scale(1.1 1)">15</text>
<line x1="307.30" y1="432.50" x2="310.70" y2="432.50" stroke="#111" stroke-width="1.7"/>
<text font-size="9.5" font-weight="bold" text-anchor="end" fill="#111" stroke="#111" stroke-width="0.55" stroke-linejoin="round" transform="translate(302.50 435.90) scale(1.1 1)">20</text>
<line x1="308.10" y1="543.19" x2="310.70" y2="543.19" stroke="#111" stroke-width="1.45"/>
<line x1="308.10" y1="511.56" x2="310.70" y2="511.56" stroke="#111" stroke-width="1.45"/>
<line x1="308.10" y1="479.94" x2="310.70" y2="479.94" stroke="#111" stroke-width="1.45"/>
<line x1="308.10" y1="448.31" x2="310.70" y2="448.31" stroke="#111" stroke-width="1.45"/>
<text font-size="10.1" font-weight="bold" text-anchor="middle" fill="#111" stroke="#111" stroke-width="0.55" stroke-linejoin="round" x="286.30" y="496.50" transform="rotate(-90 286.30 496.50)" textLength="147.5" lengthAdjust="spacingAndGlyphs">Normalized Fold Expression</text>
<text font-size="9.8" font-weight="bold" text-anchor="end" fill="#111" stroke="#111" stroke-width="0.6" stroke-linejoin="round" x="324.00" y="580.00" transform="rotate(-31 324.00 580.00)">AGS</text>
<text font-size="9.8" font-weight="bold" text-anchor="end" fill="#111" stroke="#111" stroke-width="0.6" stroke-linejoin="round" x="359.00" y="580.00" transform="rotate(-31 359.00 580.00)">siRhoA</text>
<text font-size="9.8" font-weight="bold" text-anchor="end" fill="#111" stroke="#111" stroke-width="0.6" stroke-linejoin="round" x="394.00" y="580.00" transform="rotate(-31 394.00 580.00)">simDia1</text>
<text font-size="9.8" font-weight="bold" text-anchor="end" fill="#111" stroke="#111" stroke-width="0.6" stroke-linejoin="round" x="429.00" y="580.00" transform="rotate(-31 429.00 580.00)">simDia1/Y</text>
<text font-size="9.8" font-weight="bold" text-anchor="end" fill="#111" stroke="#111" stroke-width="0.6" stroke-linejoin="round" x="463.00" y="580.50" transform="rotate(-31 463.00 580.50)">Y</text>
<text font-size="9.8" font-weight="bold" text-anchor="end" fill="#111" stroke="#111" stroke-width="0.6" stroke-linejoin="round" x="497.00" y="580.00" transform="rotate(-31 497.00 580.00)">Control</text>
<text font-size="11.2" font-weight="bold" text-anchor="start" fill="#111" stroke="#111" stroke-width="0.55" stroke-linejoin="round" x="365.50" y="443.75" textLength="52.4" lengthAdjust="spacingAndGlyphs">p16INK4a</text>
<text font-size="9.3" font-weight="normal" text-anchor="middle" fill="#111" stroke="#111" stroke-width="0.3" stroke-linejoin="round" font-family='"Liberation Serif", "Times New Roman", serif' x="326.25" y="543.27">&amp;</text>
<text font-size="13.5" font-weight="bold" text-anchor="middle" fill="#111" stroke="#111" stroke-width="0.3" stroke-linejoin="round" font-family='"Liberation Serif", "Times New Roman", serif' x="361.55" y="524.92">*</text>
<text font-size="13.5" font-weight="bold" text-anchor="middle" fill="#111" stroke="#111" stroke-width="0.3" stroke-linejoin="round" font-family='"Liberation Serif", "Times New Roman", serif' x="397.80" y="509.92">*</text>
<text font-size="13.5" font-weight="bold" text-anchor="middle" fill="#111" stroke="#111" stroke-width="0.3" stroke-linejoin="round" font-family='"Liberation Serif", "Times New Roman", serif' x="426.55" y="436.67">*</text>
<text font-size="9.3" font-weight="normal" text-anchor="middle" fill="#111" stroke="#111" stroke-width="0.3" stroke-linejoin="round" font-family='"Liberation Serif", "Times New Roman", serif' x="433.75" y="435.52">&amp;</text>
<text font-size="13.5" font-weight="bold" text-anchor="middle" fill="#111" stroke="#111" stroke-width="0.3" stroke-linejoin="round" font-family='"Liberation Serif", "Times New Roman", serif' x="463.55" y="488.67">*</text>
<text font-size="9.3" font-weight="normal" text-anchor="middle" fill="#111" stroke="#111" stroke-width="0.3" stroke-linejoin="round" font-family='"Liberation Serif", "Times New Roman", serif' x="471.25" y="487.27">&amp;</text>
<text font-size="9.3" font-weight="normal" text-anchor="middle" fill="#111" stroke="#111" stroke-width="0.3" stroke-linejoin="round" font-family='"Liberation Serif", "Times New Roman", serif' x="501.25" y="544.77">&amp;</text>
<text font-size="17" font-weight="bold" text-anchor="start" fill="#000" stroke="#000" stroke-width="0.5" stroke-linejoin="round" transform="translate(-1.40 628.00) scale(1.08 1)">G</text>
<line x1="51.00" y1="762.35" x2="51.00" y2="760.32" stroke="#111" stroke-width="1.5"/>
<line x1="48.50" y1="760.32" x2="53.50" y2="760.32" stroke="#111" stroke-width="1.5"/>
<rect x="43.75" y="762.35" width="14.50" height="6.15" fill="#fff" stroke="#111" stroke-width="1.25"/>
<line x1="86.00" y1="709.46" x2="86.00" y2="703.74" stroke="#111" stroke-width="1.5"/>
<line x1="83.50" y1="703.74" x2="88.50" y2="703.74" stroke="#111" stroke-width="1.5"/>
<rect x="78.75" y="709.46" width="14.50" height="59.04" fill="#fff" stroke="#111" stroke-width="1.25"/>
<line x1="121.00" y1="728.52" x2="121.00" y2="722.81" stroke="#111" stroke-width="1.5"/>
<line x1="118.50" y1="722.81" x2="123.50" y2="722.81" stroke="#111" stroke-width="1.5"/>
<rect x="113.75" y="728.52" width="14.50" height="39.98" fill="#fff" stroke="#111" stroke-width="1.25"/>
<line x1="156.00" y1="657.80" x2="156.00" y2="648.58" stroke="#111" stroke-width="1.5"/>
<line x1="153.50" y1="648.58" x2="158.50" y2="648.58" stroke="#111" stroke-width="1.5"/>
<rect x="148.75" y="657.80" width="14.50" height="110.70" fill="#fff" stroke="#111" stroke-width="1.25"/>
<line x1="191.00" y1="678.10" x2="191.00" y2="670.59" stroke="#111" stroke-width="1.5"/>
<line x1="188.50" y1="670.59" x2="193.50" y2="670.59" stroke="#111" stroke-width="1.5"/>
<rect x="183.75" y="678.10" width="14.50" height="90.40" fill="#fff" stroke="#111" stroke-width="1.25"/>
<line x1="225.75" y1="759.89" x2="225.75" y2="758.17" stroke="#111" stroke-width="1.5"/>
<line x1="223.25" y1="758.17" x2="228.25" y2="758.17" stroke="#111" stroke-width="1.5"/>
<rect x="218.50" y="759.89" width="14.50" height="8.61" fill="#fff" stroke="#111" stroke-width="1.25"/>
<line x1="33.60" y1="644.70" x2="33.60" y2="769.40" stroke="#111" stroke-width="2.0"/>
<line x1="32.60" y1="768.50" x2="244.25" y2="768.50" stroke="#111" stroke-width="2.3"/>
<line x1="30.20" y1="768.50" x2="33.60" y2="768.50" stroke="#111" stroke-width="1.7"/>
<text font-size="9.5" font-weight="bold" text-anchor="end" fill="#111" stroke="#111" stroke-width="0.55" stroke-linejoin="round" transform="translate(26.20 771.90) scale(1.1 1)">0</text>
<line x1="30.20" y1="737.75" x2="33.60" y2="737.75" stroke="#111" stroke-width="1.7"/>
<text font-size="9.5" font-weight="bold" text-anchor="end" fill="#111" stroke="#111" stroke-width="0.55" stroke-linejoin="round" transform="translate(26.20 741.15) scale(1.1 1)">5</text>
<line x1="30.20" y1="707.00" x2="33.60" y2="707.00" stroke="#111" stroke-width="1.7"/>
<text font-size="9.5" font-weight="bold" text-anchor="end" fill="#111" stroke="#111" stroke-width="0.55" stroke-linejoin="round" transform="translate(26.20 710.40) scale(1.1 1)">10</text>
<line x1="30.20" y1="676.25" x2="33.60" y2="676.25" stroke="#111" stroke-width="1.7"/>
<text font-size="9.5" font-weight="bold" text-anchor="end" fill="#111" stroke="#111" stroke-width="0.55" stroke-linejoin="round" transform="translate(26.20 679.65) scale(1.1 1)">15</text>
<line x1="30.20" y1="645.50" x2="33.60" y2="645.50" stroke="#111" stroke-width="1.7"/>
<text font-size="9.5" font-weight="bold" text-anchor="end" fill="#111" stroke="#111" stroke-width="0.55" stroke-linejoin="round" transform="translate(26.20 648.90) scale(1.1 1)">20</text>
<line x1="31.00" y1="753.12" x2="33.60" y2="753.12" stroke="#111" stroke-width="1.45"/>
<line x1="31.00" y1="722.38" x2="33.60" y2="722.38" stroke="#111" stroke-width="1.45"/>
<line x1="31.00" y1="691.62" x2="33.60" y2="691.62" stroke="#111" stroke-width="1.45"/>
<line x1="31.00" y1="660.88" x2="33.60" y2="660.88" stroke="#111" stroke-width="1.45"/>
<text font-size="10.1" font-weight="bold" text-anchor="middle" fill="#111" stroke="#111" stroke-width="0.55" stroke-linejoin="round" x="8.00" y="709.00" transform="rotate(-90 8.00 709.00)" textLength="147.5" lengthAdjust="spacingAndGlyphs">Normalized Fold Expression</text>
<text font-size="9.8" font-weight="bold" text-anchor="end" fill="#111" stroke="#111" stroke-width="0.6" stroke-linejoin="round" x="47.50" y="789.50" transform="rotate(-31 47.50 789.50)">AGS</text>
<text font-size="9.8" font-weight="bold" text-anchor="end" fill="#111" stroke="#111" stroke-width="0.6" stroke-linejoin="round" x="83.50" y="789.50" transform="rotate(-31 83.50 789.50)">siRhoA</text>
<text font-size="9.8" font-weight="bold" text-anchor="end" fill="#111" stroke="#111" stroke-width="0.6" stroke-linejoin="round" x="118.00" y="789.50" transform="rotate(-31 118.00 789.50)">simDia1</text>
<text font-size="9.8" font-weight="bold" text-anchor="end" fill="#111" stroke="#111" stroke-width="0.6" stroke-linejoin="round" x="153.50" y="789.50" transform="rotate(-31 153.50 789.50)">simDia1/Y</text>
<text font-size="9.8" font-weight="bold" text-anchor="end" fill="#111" stroke="#111" stroke-width="0.6" stroke-linejoin="round" x="187.00" y="790.00" transform="rotate(-31 187.00 790.00)">Y</text>
<text font-size="9.8" font-weight="bold" text-anchor="end" fill="#111" stroke="#111" stroke-width="0.6" stroke-linejoin="round" x="221.00" y="789.50" transform="rotate(-31 221.00 789.50)">Control</text>
<text font-size="11.2" font-weight="bold" text-anchor="start" fill="#111" stroke="#111" stroke-width="0.55" stroke-linejoin="round" x="88.75" y="656.00" textLength="55" lengthAdjust="spacingAndGlyphs">p18INK4c</text>
<text font-size="9.3" font-weight="normal" text-anchor="middle" fill="#111" stroke="#111" stroke-width="0.3" stroke-linejoin="round" font-family='"Liberation Serif", "Times New Roman", serif' x="50.00" y="752.27">&amp;</text>
<text font-size="13.5" font-weight="bold" text-anchor="middle" fill="#111" stroke="#111" stroke-width="0.3" stroke-linejoin="round" font-family='"Liberation Serif", "Times New Roman", serif' x="84.05" y="702.17">*</text>
<text font-size="9.3" font-weight="normal" text-anchor="middle" fill="#111" stroke="#111" stroke-width="0.3" stroke-linejoin="round" font-family='"Liberation Serif", "Times New Roman", serif' x="92.00" y="700.27">&amp;</text>
<text font-size="13.5" font-weight="bold" text-anchor="middle" fill="#111" stroke="#111" stroke-width="0.3" stroke-linejoin="round" font-family='"Liberation Serif", "Times New Roman", serif' x="120.30" y="720.92">*</text>
<text font-size="13.5" font-weight="bold" text-anchor="middle" fill="#111" stroke="#111" stroke-width="0.3" stroke-linejoin="round" font-family='"Liberation Serif", "Times New Roman", serif' x="154.80" y="647.67">*</text>
<text font-size="9.3" font-weight="normal" text-anchor="middle" fill="#111" stroke="#111" stroke-width="0.3" stroke-linejoin="round" font-family='"Liberation Serif", "Times New Roman", serif' x="162.00" y="645.27">&amp;</text>
<text font-size="13.5" font-weight="bold" text-anchor="middle" fill="#111" stroke="#111" stroke-width="0.3" stroke-linejoin="round" font-family='"Liberation Serif", "Times New Roman", serif' x="189.80" y="669.42">*</text>
<text font-size="9.3" font-weight="normal" text-anchor="middle" fill="#111" stroke="#111" stroke-width="0.3" stroke-linejoin="round" font-family='"Liberation Serif", "Times New Roman", serif' x="197.00" y="667.27">&amp;</text>
<text font-size="9.3" font-weight="normal" text-anchor="middle" fill="#111" stroke="#111" stroke-width="0.3" stroke-linejoin="round" font-family='"Liberation Serif", "Times New Roman", serif' x="226.25" y="752.27">&amp;</text>
<text font-size="17" font-weight="bold" text-anchor="start" fill="#000" stroke="#000" stroke-width="0.5" stroke-linejoin="round" transform="translate(273.20 627.20) scale(1.08 1)">H</text>
<line x1="327.88" y1="758.54" x2="327.88" y2="755.30" stroke="#111" stroke-width="1.5"/>
<line x1="325.38" y1="755.30" x2="330.38" y2="755.30" stroke="#111" stroke-width="1.5"/>
<rect x="320.75" y="758.54" width="14.25" height="10.46" fill="#fff" stroke="#111" stroke-width="1.25"/>
<line x1="362.12" y1="733.44" x2="362.12" y2="726.43" stroke="#111" stroke-width="1.5"/>
<line x1="359.62" y1="726.43" x2="364.62" y2="726.43" stroke="#111" stroke-width="1.5"/>
<rect x="355.00" y="733.44" width="14.25" height="35.56" fill="#fff" stroke="#111" stroke-width="1.25"/>
<line x1="397.12" y1="743.48" x2="397.12" y2="737.93" stroke="#111" stroke-width="1.5"/>
<line x1="394.62" y1="737.93" x2="399.62" y2="737.93" stroke="#111" stroke-width="1.5"/>
<rect x="390.00" y="743.48" width="14.25" height="25.52" fill="#fff" stroke="#111" stroke-width="1.25"/>
<line x1="431.62" y1="699.23" x2="431.62" y2="688.46" stroke="#111" stroke-width="1.5"/>
<line x1="429.12" y1="688.46" x2="434.12" y2="688.46" stroke="#111" stroke-width="1.5"/>
<rect x="424.50" y="699.23" width="14.25" height="69.77" fill="#fff" stroke="#111" stroke-width="1.25"/>
<line x1="465.88" y1="681.14" x2="465.88" y2="669.84" stroke="#111" stroke-width="1.5"/>
<line x1="463.38" y1="669.84" x2="468.38" y2="669.84" stroke="#111" stroke-width="1.5"/>
<rect x="458.75" y="681.14" width="14.25" height="87.86" fill="#fff" stroke="#111" stroke-width="1.25"/>
<line x1="500.88" y1="753.52" x2="500.88" y2="750.07" stroke="#111" stroke-width="1.5"/>
<line x1="498.38" y1="750.07" x2="503.38" y2="750.07" stroke="#111" stroke-width="1.5"/>
<rect x="493.75" y="753.52" width="14.25" height="15.48" fill="#fff" stroke="#111" stroke-width="1.25"/>
<line x1="310.50" y1="642.68" x2="310.50" y2="769.90" stroke="#111" stroke-width="2.0"/>
<line x1="309.50" y1="769.00" x2="518.75" y2="769.00" stroke="#111" stroke-width="2.3"/>
<line x1="307.10" y1="769.00" x2="310.50" y2="769.00" stroke="#111" stroke-width="1.7"/>
<text font-size="9.5" font-weight="bold" text-anchor="end" fill="#111" stroke="#111" stroke-width="0.55" stroke-linejoin="round" transform="translate(302.50 772.40) scale(1.1 1)">0</text>
<line x1="307.10" y1="727.16" x2="310.50" y2="727.16" stroke="#111" stroke-width="1.7"/>
<text font-size="9.5" font-weight="bold" text-anchor="end" fill="#111" stroke="#111" stroke-width="0.55" stroke-linejoin="round" transform="translate(302.50 730.56) scale(1.1 1)">4</text>
<line x1="307.10" y1="685.32" x2="310.50" y2="685.32" stroke="#111" stroke-width="1.7"/>
<text font-size="9.5" font-weight="bold" text-anchor="end" fill="#111" stroke="#111" stroke-width="0.55" stroke-linejoin="round" transform="translate(302.50 688.72) scale(1.1 1)">8</text>
<line x1="307.10" y1="643.48" x2="310.50" y2="643.48" stroke="#111" stroke-width="1.7"/>
<text font-size="9.5" font-weight="bold" text-anchor="end" fill="#111" stroke="#111" stroke-width="0.55" stroke-linejoin="round" transform="translate(302.50 646.88) scale(1.1 1)">12</text>
<line x1="307.90" y1="748.08" x2="310.50" y2="748.08" stroke="#111" stroke-width="1.45"/>
<line x1="307.90" y1="706.24" x2="310.50" y2="706.24" stroke="#111" stroke-width="1.45"/>
<line x1="307.90" y1="664.40" x2="310.50" y2="664.40" stroke="#111" stroke-width="1.45"/>
<text font-size="10.1" font-weight="bold" text-anchor="middle" fill="#111" stroke="#111" stroke-width="0.55" stroke-linejoin="round" x="286.30" y="709.00" transform="rotate(-90 286.30 709.00)" textLength="147.5" lengthAdjust="spacingAndGlyphs">Normalized Fold Expression</text>
<text font-size="9.8" font-weight="bold" text-anchor="end" fill="#111" stroke="#111" stroke-width="0.6" stroke-linejoin="round" x="324.00" y="790.00" transform="rotate(-31 324.00 790.00)">AGS</text>
<text font-size="9.8" font-weight="bold" text-anchor="end" fill="#111" stroke="#111" stroke-width="0.6" stroke-linejoin="round" x="359.00" y="790.00" transform="rotate(-31 359.00 790.00)">siRhoA</text>
<text font-size="9.8" font-weight="bold" text-anchor="end" fill="#111" stroke="#111" stroke-width="0.6" stroke-linejoin="round" x="394.00" y="790.00" transform="rotate(-31 394.00 790.00)">simDia1</text>
<text font-size="9.8" font-weight="bold" text-anchor="end" fill="#111" stroke="#111" stroke-width="0.6" stroke-linejoin="round" x="429.00" y="790.00" transform="rotate(-31 429.00 790.00)">simDia1/Y</text>
<text font-size="9.8" font-weight="bold" text-anchor="end" fill="#111" stroke="#111" stroke-width="0.6" stroke-linejoin="round" x="463.00" y="790.50" transform="rotate(-31 463.00 790.50)">Y</text>
<text font-size="9.8" font-weight="bold" text-anchor="end" fill="#111" stroke="#111" stroke-width="0.6" stroke-linejoin="round" x="497.00" y="790.00" transform="rotate(-31 497.00 790.00)">Control</text>
<text font-size="11.2" font-weight="bold" text-anchor="start" fill="#111" stroke="#111" stroke-width="0.55" stroke-linejoin="round" x="365.00" y="654.00" textLength="52" lengthAdjust="spacingAndGlyphs">p19INK4d</text>
<text font-size="13.5" font-weight="bold" text-anchor="middle" fill="#111" stroke="#111" stroke-width="0.3" stroke-linejoin="round" font-family='"Liberation Serif", "Times New Roman", serif' x="362.30" y="726.42">*</text>
<text font-size="13.5" font-weight="bold" text-anchor="middle" fill="#111" stroke="#111" stroke-width="0.3" stroke-linejoin="round" font-family='"Liberation Serif", "Times New Roman", serif' x="430.30" y="687.67">*</text>
<text font-size="9.3" font-weight="normal" text-anchor="middle" fill="#111" stroke="#111" stroke-width="0.3" stroke-linejoin="round" font-family='"Liberation Serif", "Times New Roman", serif' x="437.50" y="685.77">&amp;</text>
<text font-size="13.5" font-weight="bold" text-anchor="middle" fill="#111" stroke="#111" stroke-width="0.3" stroke-linejoin="round" font-family='"Liberation Serif", "Times New Roman", serif' x="464.55" y="668.42">*</text>
<text font-size="9.3" font-weight="normal" text-anchor="middle" fill="#111" stroke="#111" stroke-width="0.3" stroke-linejoin="round" font-family='"Liberation Serif", "Times New Roman", serif' x="471.75" y="666.52">&amp;</text>
</g></svg></body></html>
